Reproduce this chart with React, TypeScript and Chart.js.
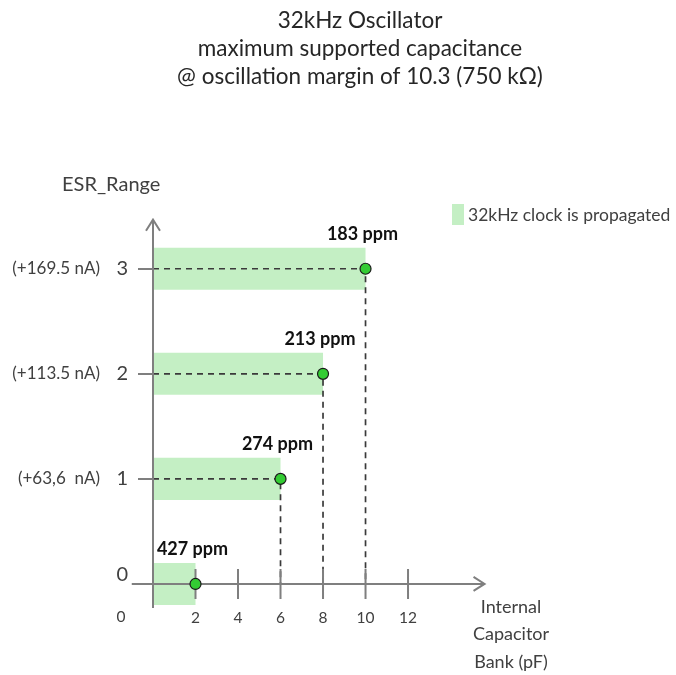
import { useEffect, useRef } from 'react'
import { Chart, registerables, type ChartConfiguration, type Plugin } from 'chart.js'

Chart.register(...registerables)

const FONT = 'Lato, "Open Sans", sans-serif'
Chart.defaults.font.family = FONT

// data
const esrLevels = [0, 1, 2, 3]
const esrCurrents = ['', '(+63,6  nA)', '(+113.5 nA)', '(+169.5 nA)']
const maxCapacitance = [2, 6, 8, 10] // pF
const ppmLabels = ['427 ppm', '274 ppm', '213 ppm', '183 ppm']
const capTicks = [2, 4, 6, 8, 10, 12]
const titleLines = ['32kHz Oscillator', 'maximum supported capacitance', '@ oscillation margin of 10.3 (750 kΩ)']
const xTitleLines = ['Internal', 'Capacitor', 'Bank (pF)']
const yTitle = 'ESR_Range'
const legendLabel = '32kHz clock is propagated'

const BAR_GREEN = '#c4efc4'
const AXIS_GRAY = '#7f7f7f'
const TEXT_GRAY = '#404040'

// 軸・矢印・注記
const overlayPlugin: Plugin = {
  id: 'overlay',
  beforeDatasetDraw(chart, args) {
    if (chart.data.datasets[args.index].label !== 'limit') return
    const { ctx, chartArea } = chart
    const x = chart.scales.x
    const y = chart.scales.y
    const x0 = x.getPixelForValue(0)
    const y0 = y.getPixelForValue(0)
    const xEnd = x.getPixelForValue(15.6)
    ctx.save()
    ctx.strokeStyle = AXIS_GRAY
    ctx.lineWidth = 2
    ctx.beginPath()
    // x axis
    ctx.moveTo(x.getPixelForValue(-1), y0)
    ctx.lineTo(xEnd, y0)
    ctx.moveTo(xEnd - 11, y0 - 7)
    ctx.lineTo(xEnd, y0)
    ctx.lineTo(xEnd - 11, y0 + 7)
    // y axis
    ctx.moveTo(x0, chartArea.bottom)
    ctx.lineTo(x0, chartArea.top)
    ctx.moveTo(x0 - 7, chartArea.top + 11)
    ctx.lineTo(x0, chartArea.top)
    ctx.lineTo(x0 + 7, chartArea.top + 11)
    // x tick marks
    capTicks.forEach((v) => {
      const px = x.getPixelForValue(v)
      ctx.moveTo(px, y0 - 15)
      ctx.lineTo(px, y0 + 15)
    })
    ctx.stroke()
    ctx.restore()
  },
  afterDatasetsDraw(chart) {
    const { ctx } = chart
    const x = chart.scales.x
    const y = chart.scales.y
    const idx = chart.data.datasets.findIndex((d) => d.label === 'limit')
    const meta = chart.getDatasetMeta(idx)
    ctx.save()
    ctx.textBaseline = 'middle'

    // ppm labels
    ctx.fillStyle = '#111'
    ctx.font = `bold 18px ${FONT}`
    ctx.textAlign = 'center'
    meta.data.forEach((pt, i) => {
      ctx.fillText(ppmLabels[i], pt.x - 3, pt.y - 35)
    })

    ctx.fillStyle = TEXT_GRAY
    // origin label on x axis
    ctx.font = `15.5px ${FONT}`
    ctx.fillText('0', x.getPixelForValue(0) - 32, y.getPixelForValue(0) + 33)

    // axis titles
    ctx.font = `20px ${FONT}`
    ctx.textAlign = 'left'
    ctx.fillText(yTitle, 62, 185)
    ctx.font = `18px ${FONT}`
    ctx.textAlign = 'center'
    xTitleLines.forEach((line, i) => {
      ctx.fillText(line, 511, 607 + i * 27.5)
    })

    // legend
    ctx.fillStyle = BAR_GREEN
    ctx.fillRect(452, 204, 12, 21)
    ctx.fillStyle = TEXT_GRAY
    ctx.font = `17.5px ${FONT}`
    ctx.textAlign = 'left'
    ctx.fillText(legendLabel, 468, 215)
    ctx.restore()
  },
}

export default function App() {
  const chartRef = useRef<HTMLCanvasElement>(null)
  const chartInstance = useRef<Chart | null>(null)

  useEffect(() => {
    if (!chartRef.current) return
    if (chartInstance.current) chartInstance.current.destroy()

    const guideLines = esrLevels.map((level, i) => ({
      type: 'line' as const,
      label: 'guide' + level,
      data: [
        { x: 0, y: level },
        { x: maxCapacitance[i], y: level },
        { x: maxCapacitance[i], y: 0 },
      ],
      borderColor: '#3a3a3a',
      borderWidth: 1.7,
      borderDash: [6, 5],
      pointRadius: 0,
      fill: false,
      tension: 0,
      order: 2,
      xAxisID: 'x',
      yAxisID: 'y',
    }))

    const config: ChartConfiguration = {
      type: 'scatter',
      data: {
        datasets: [
          {
            type: 'bar',
            label: 'propagated',
            indexAxis: 'y',
            data: esrLevels.map((level, i) => ({ x: maxCapacitance[i], y: level })),
            backgroundColor: BAR_GREEN,
            borderWidth: 0,
            categoryPercentage: 0.4,
            barPercentage: 1,
            order: 3,
            xAxisID: 'x',
            yAxisID: 'y',
          } as any,
          ...guideLines,
          {
            type: 'scatter',
            label: 'limit',
            data: esrLevels.map((level, i) => ({ x: maxCapacitance[i], y: level })),
            backgroundColor: '#33cc33',
            borderColor: '#1a1a1a',
            borderWidth: 1.2,
            pointRadius: 5.5,
            clip: false,
            order: 1,
            xAxisID: 'x',
            yAxisID: 'y',
          } as any,
        ],
      },
      options: {
        animation: false,
        responsive: true,
        maintainAspectRatio: false,
        layout: { padding: { left: 0, right: 109, top: 0, bottom: 0 } },
        scales: {
          x: {
            type: 'linear',
            position: 'bottom',
            min: 0,
            max: 19.48,
            afterBuildTicks: (axis) => {
              axis.ticks = capTicks.map((v) => ({ value: v }))
            },
            afterFit: (axis) => {
              axis.height = 67
            },
            grid: { display: false, drawTicks: false },
            border: { display: false },
            ticks: {
              color: TEXT_GRAY,
              font: { size: 15.5 },
              padding: 1,
              maxRotation: 0,
              autoSkip: false,
            },
          },
          y: {
            type: 'linear',
            position: 'left',
            weight: 0,
            offset: false,
            min: -0.229,
            max: 3.467,
            afterBuildTicks: (axis) => {
              axis.ticks = esrLevels.map((v) => ({ value: v }))
            },
            afterFit: (axis) => {
              axis.width = 45
            },
            grid: {
              offset: false,
              drawOnChartArea: false,
              drawTicks: true,
              tickLength: 15,
              color: AXIS_GRAY,
              lineWidth: 2,
            },
            border: { display: false },
            ticks: {
              color: TEXT_GRAY,
              font: { size: 20, lineHeight: 0.9 },
              padding: 10,
              callback: (v) => (Number(v) === 0 ? ['0', ''] : String(v)),
            },
          },
          y2: {
            type: 'linear',
            position: 'left',
            weight: 1,
            offset: false,
            min: -0.229,
            max: 3.467,
            afterBuildTicks: (axis) => {
              axis.ticks = esrLevels.map((v) => ({ value: v }))
            },
            afterFit: (axis) => {
              axis.width = 108
            },
            grid: { display: false, drawTicks: false },
            border: { display: false },
            ticks: {
              color: TEXT_GRAY,
              font: { size: 17 },
              padding: 8,
              callback: (_v, i) => esrCurrents[i],
            },
          },
        },
        plugins: {
          legend: { display: false },
          tooltip: { enabled: false },
          title: {
            display: true,
            fullSize: false,
            text: titleLines,
            color: '#262626',
            font: { size: 22.5, weight: 'normal', lineHeight: 1.24 },
            padding: { top: 7, bottom: 129 },
          },
        },
      },
      plugins: [overlayPlugin],
    }

    chartInstance.current = new Chart(chartRef.current, config)

    return () => {
      if (chartInstance.current) {
        chartInstance.current.destroy()
        chartInstance.current = null
      }
    }
  }, [])

  return (
    <div style={{ position: 'absolute', left: 0, top: 0, width: 676, height: 675, background: '#fff' }}>
      <canvas ref={chartRef} />
    </div>
  )
}
